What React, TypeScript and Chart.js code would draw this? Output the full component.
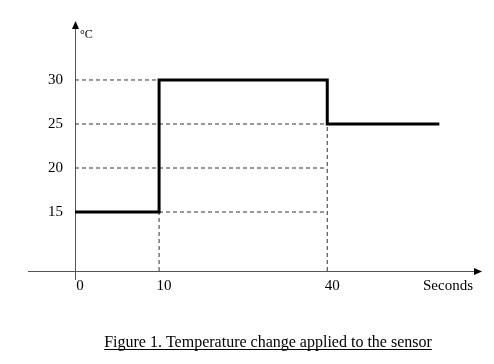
import React, { useEffect, useRef } from 'react';
import { Chart, registerables, LinearScale } from 'chart.js';

// ---- data ----
const timeSeconds = [0, 10, 40, 60];
const temperatureC = [15, 30, 25, 25];
const xTickValues = [0, 10, 40];
const yTickValues = [15, 20, 25, 30];
const xAxisTitle = 'Seconds';
const yUnitLabel = '°C';
const captionText = 'Figure 1. Temperature change applied to the sensor';

// ---- axis ranges ----
const X_MIN = 0;
const X_MAX = 66;
const Y_MIN = 8.3;
const Y_MAX = 36.7;

const FONT = '"Liberation Serif", "Times New Roman", serif';

// Linear scale whose first segment (up to breakAt) is stretched, as in the schematic figure
class BrokenLinearScale extends LinearScale {
  static id = 'brokenLinear';
  static defaults = LinearScale.defaults;
  warp(v: number) {
    const b = (this.options as any).breakAt ?? 0;
    const s = (this.options as any).stretch ?? 1;
    return v <= b ? v * s : b * s + (v - b);
  }
  unwarp(u: number) {
    const b = (this.options as any).breakAt ?? 0;
    const s = (this.options as any).stretch ?? 1;
    return u <= b * s ? u / s : u - b * s + b;
  }
  getPixelForValue(value: any) {
    if (value === null || value === undefined || isNaN(value)) return NaN;
    const a = this.warp(this.min);
    const z = this.warp(this.max);
    return this.getPixelForDecimal((this.warp(value) - a) / (z - a));
  }
  getValueForPixel(pixel: number) {
    const a = this.warp(this.min);
    const z = this.warp(this.max);
    return this.unwarp(a + this.getDecimalForPixel(pixel) * (z - a));
  }
}

Chart.register(...registerables, BrokenLinearScale as any);

const sketchPlugin = {
  id: 'sketchAxes',
  beforeDatasetsDraw(chart: any) {
    const { ctx, chartArea: ca, scales } = chart;
    const ax = Math.round(scales.x.getPixelForValue(0)) + 0.5;
    const ay = Math.round(scales.y.getPixelForValue(Y_MIN)) + 0.5;
    ctx.save();
    ctx.strokeStyle = '#555';
    ctx.lineWidth = 1;
    ctx.beginPath();
    ctx.moveTo(ax, ca.top + 7);
    ctx.lineTo(ax, ca.bottom + 9);
    ctx.moveTo(ca.left - 47, ay);
    ctx.lineTo(ca.right + 3, ay);
    ctx.stroke();
    ctx.fillStyle = '#000';
    ctx.beginPath();
    ctx.moveTo(ax, ca.top);
    ctx.lineTo(ax - 3.5, ca.top + 8);
    ctx.lineTo(ax + 3.5, ca.top + 8);
    ctx.closePath();
    ctx.fill();
    const tip = ca.right + 9;
    ctx.beginPath();
    ctx.moveTo(tip, ay);
    ctx.lineTo(tip - 8, ay - 3.5);
    ctx.lineTo(tip - 8, ay + 3.5);
    ctx.closePath();
    ctx.fill();
    ctx.restore();
  },
  afterDraw(chart: any) {
    const { ctx, chartArea: ca } = chart;
    ctx.save();
    ctx.fillStyle = '#000';
    ctx.font = `12px ${FONT}`;
    ctx.textAlign = 'left';
    ctx.textBaseline = 'alphabetic';
    ctx.fillText(yUnitLabel, ca.left + 5, ca.top + 17);

    ctx.font = `16px ${FONT}`;
    ctx.textAlign = 'center';
    const cx = 268;
    const by = 347;
    ctx.fillText(captionText, cx, by);
    const w = ctx.measureText(captionText).width;
    ctx.strokeStyle = '#000';
    ctx.lineWidth = 1;
    ctx.beginPath();
    ctx.moveTo(cx - w / 2, by + 2.5);
    ctx.lineTo(cx + w / 2, by + 2.5);
    ctx.stroke();
    ctx.restore();
  },
};

export default function App() {
  const ref = useRef<HTMLCanvasElement | null>(null);

  useEffect(() => {
    if (!ref.current) return;
    const stepData = timeSeconds.map((t, i) => ({ x: t, y: temperatureC[i] }));

    // dashed guide lines derived from the step data
    const changes = timeSeconds
      .map((t, i) => ({ t, i }))
      .filter(({ i }) => i > 0 && temperatureC[i] !== temperatureC[i - 1]);
    const lastChange = changes.length ? changes[changes.length - 1].t : X_MAX;

    const guideStyle = {
      borderColor: '#333',
      borderWidth: 1,
      borderDash: [4, 3],
      pointRadius: 0,
      fill: false,
      order: 1,
    };
    const horizontalGuides = yTickValues.map((lvl) => ({
      ...guideStyle,
      label: `guide ${lvl}`,
      data: [
        { x: 0, y: lvl },
        { x: lastChange, y: lvl },
      ],
    }));
    const verticalGuides = changes.map(({ t, i }) => ({
      ...guideStyle,
      label: `guide t${t}`,
      data: [
        { x: t, y: Y_MIN },
        { x: t, y: Math.min(temperatureC[i], temperatureC[i - 1]) },
      ],
    }));

    const chart = new Chart(ref.current, {
      type: 'line',
      data: {
        datasets: [
          {
            label: 'Temperature',
            data: stepData,
            stepped: true,
            borderColor: '#000',
            borderWidth: 3,
            borderJoinStyle: 'miter',
            borderCapStyle: 'butt',
            pointRadius: 0,
            fill: false,
            order: 0,
          },
          ...horizontalGuides,
          ...verticalGuides,
        ] as any,
      },
      options: {
        animation: false,
        responsive: false,
        events: [],
        layout: { padding: { top: 17, right: 21, bottom: 53, left: 0 } },
        plugins: {
          legend: { display: false },
          tooltip: { enabled: false },
          title: { display: false },
        },
        scales: {
          x: {
            type: 'brokenLinear' as any,
            min: X_MIN,
            max: X_MAX,
            breakAt: 10,
            stretch: 1.5,
            grid: { display: false, drawTicks: false },
            border: { display: false },
            ticks: {
              color: '#000',
              font: { family: FONT, size: 15 },
              padding: 6,
              labelOffset: 5,
              maxRotation: 0,
              autoSkip: false,
              callback: (v: any) => String(v),
            },
            title: {
              display: true,
              text: xAxisTitle,
              align: 'end',
              color: '#000',
              font: { family: FONT, size: 15 },
              padding: { top: 0, bottom: 16 },
            },
            afterBuildTicks: (s: any) => {
              s.ticks = xTickValues.map((v) => ({ value: v }));
            },
            afterFit: (s: any) => {
              s.height = 40;
            },
          } as any,
          y: {
            type: 'linear',
            min: Y_MIN,
            max: Y_MAX,
            grid: { display: false, drawTicks: false },
            border: { display: false },
            ticks: {
              color: '#000',
              font: { family: FONT, size: 15 },
              padding: 12,
              autoSkip: false,
              callback: (v: any) => String(v),
            },
            afterBuildTicks: (s: any) => {
              s.ticks = yTickValues.map((v) => ({ value: v }));
            },
            afterFit: (s: any) => {
              s.width = 75;
            },
          },
        },
      },
      plugins: [sketchPlugin],
    });
    return () => chart.destroy();
  }, []);

  return (
    <div style={{ position: 'absolute', left: 0, top: 0, width: 494, height: 364, background: '#fff' }}>
      <canvas ref={ref} width={494} height={364} style={{ display: 'block' }} />
    </div>
  );
}
